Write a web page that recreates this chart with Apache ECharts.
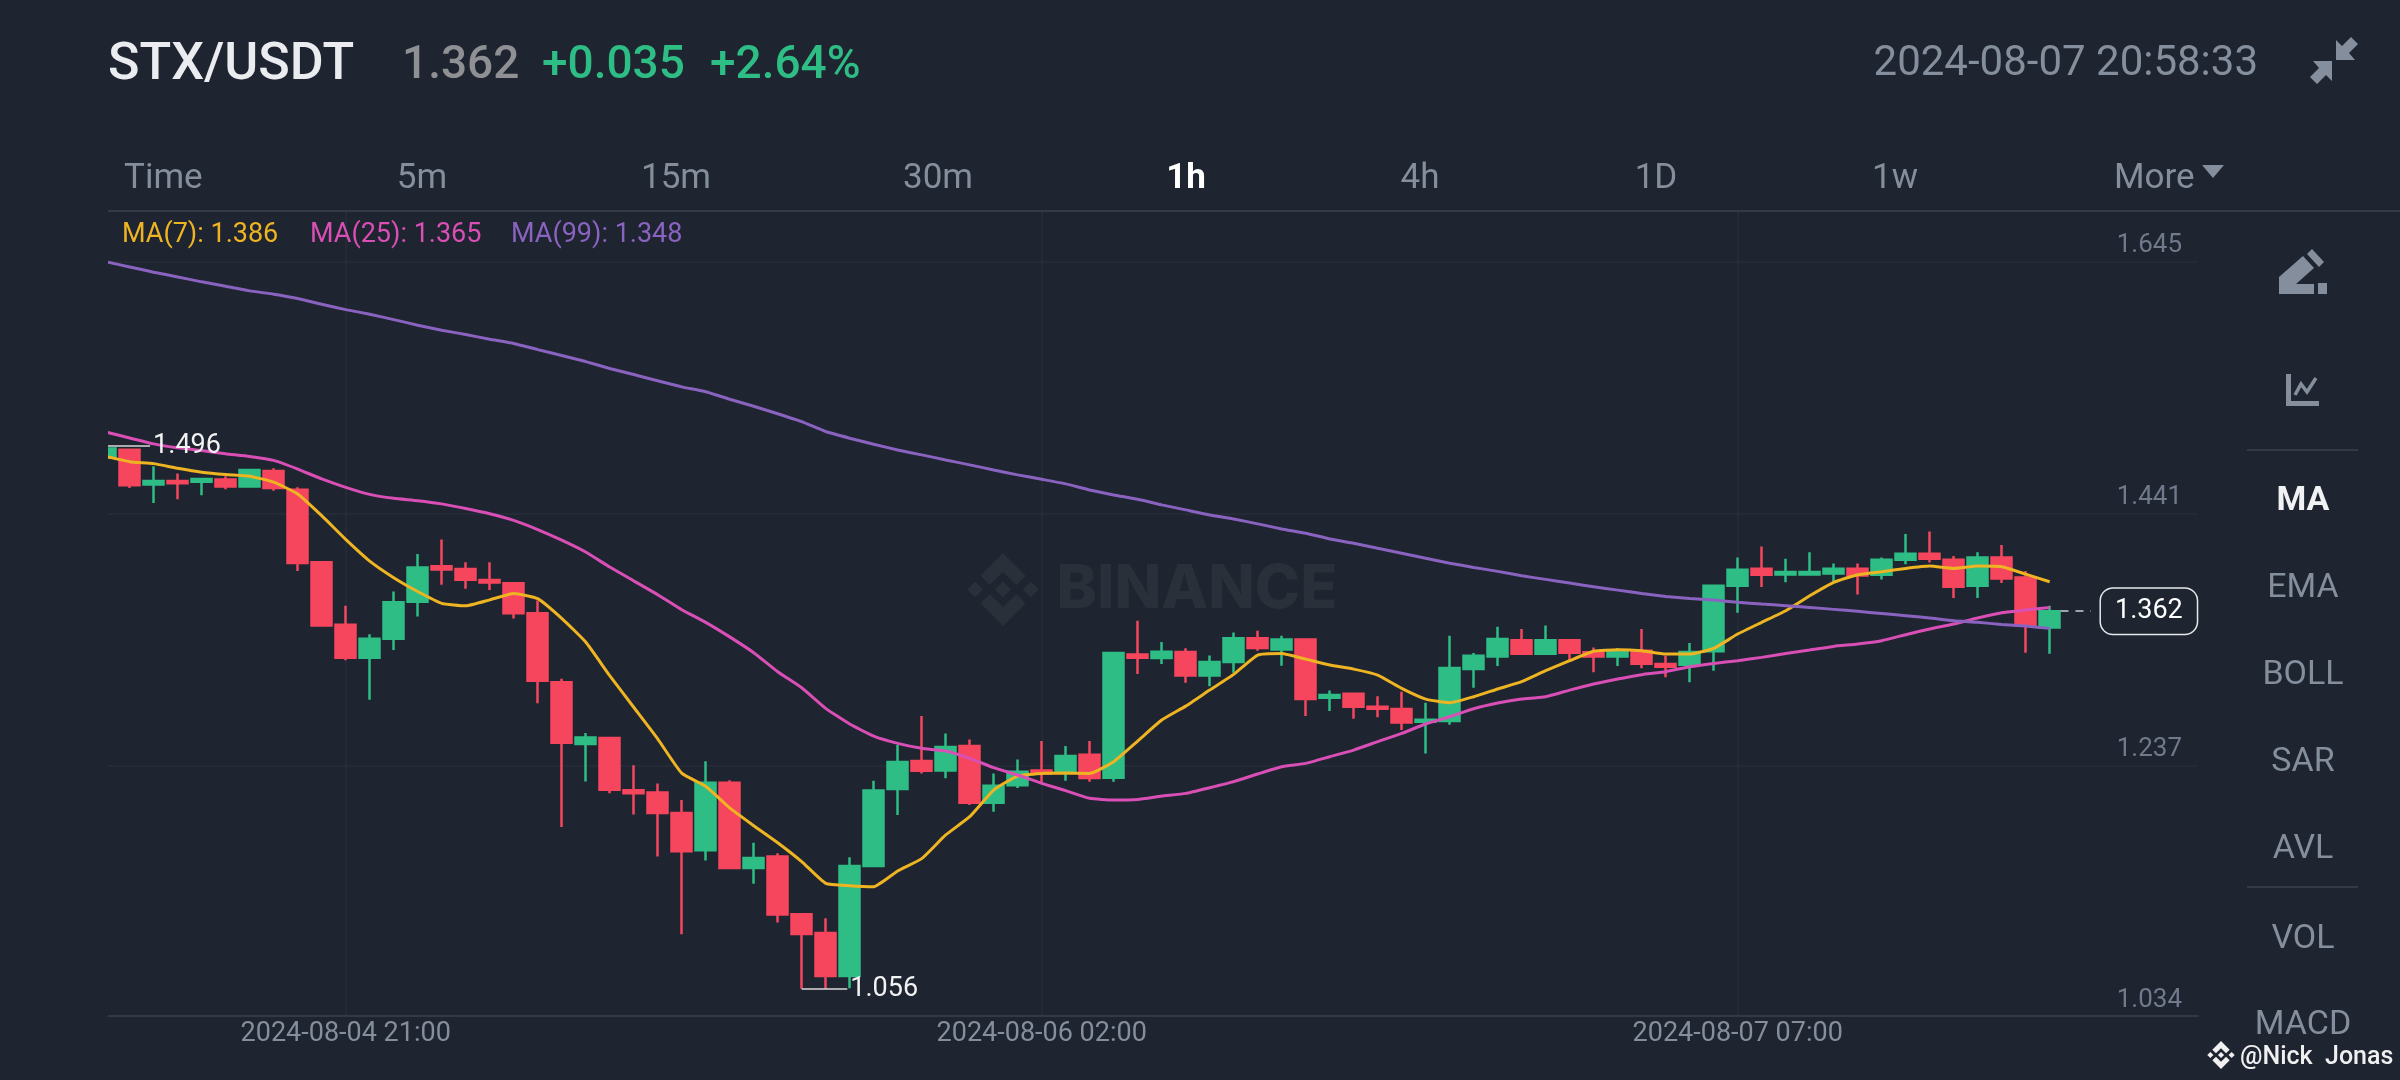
<!DOCTYPE html>
<html lang="en">
<head>
<meta charset="UTF-8">
<title>STX/USDT</title>
<script src="https://cdn.jsdelivr.net/npm/echarts@6/dist/echarts.min.js"></script>
<style>
html, body { margin: 0; padding: 0; background: #1e2430; }
#chart { width: 2400px; height: 1080px; }
</style>
</head>
<body>
<div id="chart"></div>
<script type="text/javascript">
// hourly candles
var opens = [1.4864,1.4928,1.4647,1.4676,1.4669,1.4688,1.4631,1.4756,1.4605,1.4016,1.3511,1.3242,1.3396,1.3696,1.3984,1.3962,1.3872,1.3847,1.3604,1.3044,1.2544,1.2592,1.2170,1.2151,1.1984,1.1684,1.2231,1.1540,1.1632,1.1164,1.1013,1.0664,1.1555,1.2179,1.2406,1.2330,1.2527,1.2068,1.2209,1.2330,1.2320,1.2457,1.2271,1.3270,1.3240,1.3289,1.3100,1.3208,1.3400,1.3310,1.3391,1.2919,1.2951,1.2846,1.2827,1.2725,1.2730,1.3151,1.3254,1.3384,1.3276,1.3384,1.3287,1.3254,1.3300,1.3192,1.3187,1.3295,1.3827,1.3964,1.3918,1.3918,1.3926,1.3964,1.3916,1.4037,1.4086,1.4037,1.3827,1.4056,1.3894,1.3489];
var closes = [1.4938,1.4640,1.4676,1.4656,1.4692,1.4631,1.4765,1.4618,1.4010,1.3504,1.3242,1.3396,1.3693,1.3975,1.3959,1.3876,1.3853,1.3604,1.3056,1.2554,1.2596,1.2173,1.2144,1.1984,1.1674,1.2231,1.1540,1.1620,1.1162,1.1005,1.0664,1.1555,1.2168,1.2398,1.2328,1.2519,1.2068,1.2206,1.2320,1.2306,1.2446,1.2268,1.3281,1.3243,1.3292,1.3100,1.3208,1.3400,1.3321,1.3391,1.2908,1.2941,1.2846,1.2830,1.2719,1.2741,1.3159,1.3259,1.3395,1.3276,1.3384,1.3284,1.3254,1.3300,1.3195,1.3170,1.3289,1.3827,1.3956,1.3916,1.3937,1.3937,1.3964,1.3910,1.4037,1.4086,1.4045,1.3818,1.4056,1.3886,1.3503,1.362];
var lows = [1.4858,1.4618,1.4496,1.4528,1.4560,1.4608,1.4631,1.4596,1.3946,1.3504,1.3223,1.2903,1.3306,1.3578,1.3834,1.3802,1.3792,1.3562,1.2874,1.1872,1.2240,1.2144,1.1972,1.1632,1.1002,1.1600,1.1530,1.1412,1.1098,1.056,1.056,1.0565,1.1555,1.1969,1.2306,1.2266,1.2050,1.1996,1.2187,1.2225,1.2247,1.2239,1.2239,1.3111,1.3192,1.3040,1.3013,1.3121,1.3300,1.3178,1.2770,1.2811,1.2749,1.2760,1.2657,1.2468,1.2700,1.3000,1.3176,1.3276,1.3276,1.3219,1.3125,1.3176,1.3157,1.3084,1.3044,1.3138,1.3608,1.3816,1.3854,1.3918,1.3854,1.3756,1.3878,1.4000,1.4015,1.3727,1.3727,1.3848,1.3284,1.3276];
var highs = [1.496,1.4938,1.4794,1.4736,1.4692,1.4714,1.4765,1.4778,1.4624,1.4016,1.3664,1.3434,1.3780,1.4084,1.4202,1.4016,1.4016,1.3853,1.3706,1.3072,1.2634,1.2592,1.2372,1.2224,1.2090,1.2404,1.2250,1.1744,1.1658,1.1172,1.1132,1.1626,1.2247,1.2536,1.2770,1.2630,1.2581,1.2306,1.2419,1.2568,1.2527,1.2568,1.3289,1.3543,1.3370,1.3319,1.3262,1.3448,1.3462,1.3421,1.3391,1.2978,1.2959,1.2932,1.2968,1.2878,1.3421,1.3281,1.3494,1.3476,1.3505,1.3395,1.3327,1.3322,1.3476,1.3260,1.3362,1.3835,1.4056,1.4145,1.4045,1.4097,1.4007,1.4007,1.4056,1.4245,1.4267,1.4067,1.4097,1.4156,1.3945,1.3665];

var ma7 = [1.4874,1.4832,1.4816,1.4778,1.4746,1.4727,1.4714,1.4666,1.4570,1.4394,1.4202,1.4026,1.3892,1.3780,1.3684,1.3664,1.3712,1.3764,1.3722,1.3562,1.3370,1.3098,1.2842,1.2586,1.2308,1.2202,1.2026,1.1882,1.1744,1.1591,1.1415,1.1396,1.1388,1.1515,1.1615,1.1807,1.1955,1.2171,1.2284,1.2306,1.2309,1.2306,1.2401,1.2568,1.2738,1.2851,1.2981,1.3108,1.3265,1.3278,1.3232,1.3184,1.3151,1.3103,1.2995,1.2908,1.2878,1.2927,1.2990,1.3049,1.3138,1.3219,1.3295,1.3308,1.3300,1.3273,1.3273,1.3319,1.3435,1.3530,1.3624,1.3745,1.3854,1.3916,1.3940,1.3967,1.3986,1.3967,1.3986,1.3981,1.3921,1.3859];
var ma25 = [1.5072,1.5024,1.4976,1.4944,1.4922,1.4896,1.4874,1.4842,1.4772,1.4692,1.4624,1.4567,1.4535,1.4516,1.4490,1.4452,1.4410,1.4356,1.4282,1.4196,1.4100,1.3978,1.3866,1.3754,1.3632,1.3530,1.3412,1.3284,1.3130,1.3000,1.2833,1.2706,1.2608,1.2549,1.2509,1.2487,1.2428,1.2352,1.2293,1.2225,1.2166,1.2104,1.2090,1.2095,1.2122,1.2144,1.2190,1.2239,1.2301,1.2360,1.2387,1.2441,1.2495,1.2563,1.2630,1.2706,1.2765,1.2830,1.2876,1.2909,1.2927,1.2981,1.3030,1.3071,1.3106,1.3130,1.3170,1.3197,1.3219,1.3246,1.3278,1.3305,1.3335,1.3354,1.3381,1.3430,1.3476,1.3516,1.3565,1.3608,1.3629,1.3651];
var ma99 = [1.6452,1.6410,1.6367,1.6329,1.6289,1.6253,1.6216,1.6189,1.6154,1.6108,1.6064,1.6027,1.5983,1.5938,1.5897,1.5862,1.5824,1.5789,1.5740,1.5692,1.5643,1.5587,1.5538,1.5487,1.5438,1.5398,1.5338,1.5281,1.5220,1.5156,1.5076,1.5022,1.4973,1.4927,1.4887,1.4846,1.4806,1.4765,1.4725,1.4689,1.4652,1.4603,1.4562,1.4527,1.4482,1.4441,1.4400,1.4368,1.4328,1.4287,1.4252,1.4206,1.4171,1.4130,1.4090,1.4050,1.4009,1.3975,1.3943,1.3907,1.3878,1.3848,1.3818,1.3791,1.3764,1.3740,1.3724,1.3710,1.3692,1.3678,1.3665,1.3651,1.3635,1.3619,1.3602,1.3584,1.3565,1.3543,1.3530,1.3513,1.3500,1.3481];

var priceTicks = [1.034, 1.237, 1.441, 1.645];
var timeTickIndex = [10, 39, 68];
var timeTickLabels = ['2024-08-04 21:00', '2024-08-06 02:00', '2024-08-07 07:00'];
var lastPrice = 1.362;
var intervals = ['Time', '5m', '15m', '30m', '1h', '4h', '1D', '1w'];
var intervalX = [124, 422, 676, 938, 1186, 1420, 1656, 1895];
var indicators = ['MA', 'EMA', 'BOLL', 'SAR', 'AVL', 'VOL', 'MACD'];
var indicatorY = [501, 588, 675, 762, 849, 939, 1025];

var BG = '#1e2430', UP = '#2ebd85', DOWN = '#f6465d', GREY = '#848e9c', RULE = '#333a45', GRID = '#272d38';
var FONT = 'Roboto';
var xMin = 0.096, xMax = 87.18; // the first candle is cut by the left edge

var candles = opens.map(function (o, i) { return [i, o, closes[i], lows[i], highs[i]]; });
function linePoints(arr) { return arr.map(function (v, i) { return [i, v]; }); }

var hiVal = Math.max.apply(null, highs), loVal = Math.min.apply(null, lows);
var hiIdx = highs.indexOf(hiVal), loIdx = lows.indexOf(loVal), lastIdx = opens.length - 1;

function txt(text, x, y, size, fill, align, weight) {
    return { type: 'text', z: 10, style: { text: text, x: x, y: y, fontSize: size, fontFamily: FONT, fontWeight: weight || 400, fill: fill, align: align || 'left', verticalAlign: 'middle' } };
}
function poly(points, fill, z) {
    return { type: 'polygon', z: z === undefined ? 10 : z, shape: { points: points }, style: { fill: fill } };
}
function rule(x1, y1, x2, y2) {
    return { type: 'line', z: 10, shape: { x1: x1, y1: y1, x2: x2, y2: y2 }, style: { stroke: RULE, lineWidth: 2 } };
}
// exchange logo, five pieces around (cx, cy), r is half the height
function logo(cx, cy, r, fill, z) {
    function p(a) { return a.map(function (q) { return [cx + q[0] * r, cy + q[1] * r]; }); }
    return [
        poly(p([[0, -0.22], [0.22, 0], [0, 0.22], [-0.22, 0]]), fill, z),
        poly(p([[-0.76, -0.22], [-0.54, 0], [-0.76, 0.22], [-0.98, 0]]), fill, z),
        poly(p([[0.76, -0.22], [0.98, 0], [0.76, 0.22], [0.54, 0]]), fill, z),
        poly(p([[0, -1], [0.62, -0.38], [0.36, -0.12], [0, -0.48], [-0.36, -0.12], [-0.62, -0.38]]), fill, z),
        poly(p([[0, 1], [0.62, 0.38], [0.36, 0.12], [0, 0.48], [-0.36, 0.12], [-0.62, 0.38]]), fill, z)
    ];
}

var graphics = [
    // candlesticks do not clip to the grid, so cover what hangs over the left edge
    { type: 'rect', z: 9, shape: { x: 0, y: 212, width: 108, height: 804 }, style: { fill: BG } },
    txt('STX/USDT', 108, 66, 52, '#eaecef', 'left', 500),
    txt('1.362', 402, 66, 46, '#8f9094', 'left', 500),
    txt('+0.035', 542, 66, 46, UP, 'left', 500),
    txt('+2.64%', 710, 66, 46, UP, 'left', 500),
    txt('2024-08-07 20:58:33', 2258, 64, 42, GREY, 'right'),
    txt('More', 2114, 179, 35, GREY),
    poly([[2202, 165], [2224, 165], [2213, 178]], GREY),
    rule(108, 211, 2400, 211),
    txt('MA(7): 1.386', 122, 235, 27, '#eeb422'),
    txt('MA(25): 1.365', 310, 235, 27, '#d94fb5'),
    txt('MA(99): 1.348', 511, 235, 27, '#8a63c0'),
    rule(2247, 450, 2358, 450),
    rule(2247, 887, 2358, 887),
    { type: 'text', z: 0, style: { text: 'BINANCE', x: 1197, y: 590, fontSize: 61, fontFamily: 'Inter', fontWeight: 800, fill: '#2a303a', align: 'center', verticalAlign: 'middle' } },
    txt('@Nick  Jonas', 2240, 1058, 25, '#f0f0f0', 'left', 500),
    // compress arrows, top right
    poly([[2336, 40], [2342, 46], [2351, 37], [2358, 44], [2349, 53], [2355, 60], [2336, 60]], GREY),
    poly([[2332, 81], [2326, 75], [2317, 84], [2310, 77], [2319, 68], [2313, 61], [2332, 61]], GREY),
    // pencil
    poly([[2279, 277], [2303, 256], [2314, 268], [2296, 284], [2314, 284], [2314, 294], [2279, 294]], GREY),
    poly([[2307, 254], [2312, 249], [2324, 262], [2319, 267]], GREY),
    poly([[2318, 283], [2327, 283], [2327, 294], [2318, 294]], GREY),
    // indicator chart icon
    poly([[2286, 374], [2291, 374], [2291, 401], [2319, 401], [2319, 406], [2286, 406]], GREY),
    { type: 'polyline', z: 10, shape: { points: [[2295, 395], [2301, 384], [2307, 392], [2316, 378]] }, style: { stroke: GREY, lineWidth: 3.5, fill: null } }
];
intervals.forEach(function (t, i) {
    var active = t === '1h';
    graphics.push(txt(t, intervalX[i], 179, 35, active ? '#ffffff' : GREY, i === 0 ? 'left' : 'center', active ? 700 : 400));
});
indicators.forEach(function (t, i) {
    graphics.push(txt(t, 2303, indicatorY[i], 34, t === 'MA' ? '#f0f1f3' : GREY, 'center', t === 'MA' ? 700 : 400));
});
graphics = graphics.concat(logo(1003, 589.5, 36.5, '#2a303a', 0), logo(2221, 1055, 14, '#f0f0f0', 10));

function maSeries(name, arr, color) {
    return {
        name: name, type: 'line', data: linePoints(arr), showSymbol: false, smooth: 0.15, z: 5,
        lineStyle: { color: color, width: 3 }, silent: true, animation: false
    };
}

var myChart = echarts.init(document.getElementById('chart'));
var option = {
    backgroundColor: BG,
    animation: false,
    graphic: graphics,
    grid: { left: 108, width: 2090, top: 212, height: 804, containLabel: false },
    xAxis: {
        type: 'value', min: xMin, max: xMax,
        axisLine: { show: true, onZero: false, lineStyle: { color: RULE, width: 2 } },
        axisTick: { show: false, customValues: timeTickIndex },
        splitLine: { show: true, lineStyle: { color: GRID, width: 1.5 } },
        axisLabel: {
            customValues: timeTickIndex, color: GREY, fontFamily: FONT, fontSize: 27, margin: 3, lineHeight: 30,
            formatter: function (v) { return timeTickLabels[timeTickIndex.indexOf(v)]; }
        }
    },
    yAxis: {
        type: 'value', position: 'right', min: 1.034, max: 1.6855,
        axisLine: { show: false },
        axisTick: { show: false, customValues: priceTicks },
        splitLine: { show: true, lineStyle: { color: GRID, width: 1.5 } },
        axisLabel: {
            inside: true, customValues: priceTicks, color: '#707a8a', fontFamily: FONT, fontSize: 26, margin: 16,
            verticalAlign: 'bottom', lineHeight: 32,
            formatter: function (v) { return v.toFixed(3); }
        }
    },
    series: [
        {
            type: 'candlestick', data: candles, encode: { x: 0, y: [1, 2, 3, 4] }, barWidth: 20, z: 3, silent: true,
            itemStyle: { color: UP, color0: DOWN, borderColor: UP, borderColor0: DOWN, borderWidth: 2.5 },
            markLine: {
                silent: true, symbol: 'none', z: 8, animation: false,
                data: [
                    [{
                        coord: [Math.max(hiIdx, xMin), hiVal], lineStyle: { color: '#d8d8d8', width: 1.5, type: 'solid' },
                        label: { show: true, position: 'end', distance: 3, formatter: hiVal.toFixed(3), color: '#f2f2f2', fontFamily: FONT, fontSize: 27 }
                    }, { coord: [hiIdx + 1.85, hiVal] }],
                    [{
                        coord: [loIdx, loVal], lineStyle: { color: '#d8d8d8', width: 1.5, type: 'solid' },
                        label: { show: true, position: 'end', distance: 3, formatter: loVal.toFixed(3), color: '#f2f2f2', fontFamily: FONT, fontSize: 27 }
                    }, { coord: [loIdx + 1.9, loVal] }],
                    [{
                        coord: [lastIdx + 0.45, lastPrice], lineStyle: { color: '#c9ccd1', width: 1.5, type: [8, 7] },
                        label: {
                            show: true, position: 'end', distance: 10, formatter: lastPrice.toFixed(3), color: '#ffffff', fontFamily: FONT, fontSize: 27,
                            backgroundColor: BG, borderColor: '#e6e8ea', borderWidth: 1.5, borderRadius: 12, padding: [9, 14, 9, 14]
                        }
                    }, { coord: [lastIdx + 1.72, lastPrice] }]
                ]
            }
        },
        maSeries('MA(7)', ma7, '#eeb422'),
        maSeries('MA(25)', ma25, '#d94fb5'),
        maSeries('MA(99)', ma99, '#8a63c0')
    ]
};
option && myChart.setOption(option);
</script>
</body>
</html>
